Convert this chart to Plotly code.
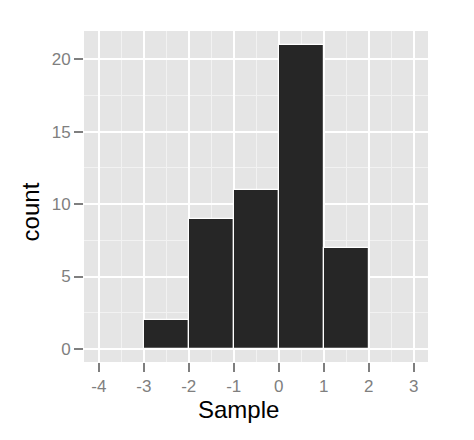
import plotly.graph_objects as go

# histogram bins (left edge) and counts
bin_left = [-3, -2, -1, 0, 1]
counts = [2, 9, 11, 21, 7]
bin_width = 1

x_ticks = [-4, -3, -2, -1, 0, 1, 2, 3]
y_ticks = [0, 5, 10, 15, 20]

centers = [b + bin_width / 2 for b in bin_left]

fig = go.Figure(go.Bar(
    x=centers, y=counts, width=bin_width,
    marker=dict(color="#262626", line=dict(color="white", width=1.2)),
))

grey = "#7f7f7f"
fig.update_layout(
    width=474, height=440,
    margin=dict(l=76, r=54, t=23, b=86),
    paper_bgcolor="white",
    plot_bgcolor="#e5e5e5",
    font=dict(family="Arial, Liberation Sans, sans-serif"),
    showlegend=False,
    bargap=0,
)
fig.update_xaxes(
    range=[-4.33, 3.32],
    tickvals=x_ticks, ticktext=[str(t) for t in x_ticks],
    tickfont=dict(size=17, color=grey),
    ticks="outside", ticklen=9, tickwidth=2, tickcolor=grey,
    showgrid=True, gridcolor="white", gridwidth=2,
    minor=dict(dtick=0.5, tick0=0.5, showgrid=True, gridcolor="#f2f2f2", gridwidth=1, ticks=""),
    zeroline=False, showline=False,
)
fig.update_yaxes(
    range=[-0.9, 21.95],
    tickvals=y_ticks, ticktext=[str(t) for t in y_ticks],
    tickfont=dict(size=17, color=grey),
    ticks="outside", ticklen=9, tickwidth=2, tickcolor=grey,
    showgrid=True, gridcolor="white", gridwidth=2,
    minor=dict(dtick=2.5, tick0=2.5, showgrid=True, gridcolor="#f2f2f2", gridwidth=1, ticks=""),
    zeroline=False, showline=False,
)

# axis titles (sit slightly off the panel centre, as in the original)
fig.add_annotation(text="Sample", xref="paper", yref="paper", x=0.448, y=-0.145,
                   xanchor="center", yanchor="middle", showarrow=False,
                   font=dict(size=24, color="black"))
fig.add_annotation(text="count", xref="paper", yref="paper", x=-0.157, y=0.455,
                   xanchor="center", yanchor="middle", showarrow=False, textangle=-90,
                   font=dict(size=24, color="black"))

fig.write_html("out.html")
